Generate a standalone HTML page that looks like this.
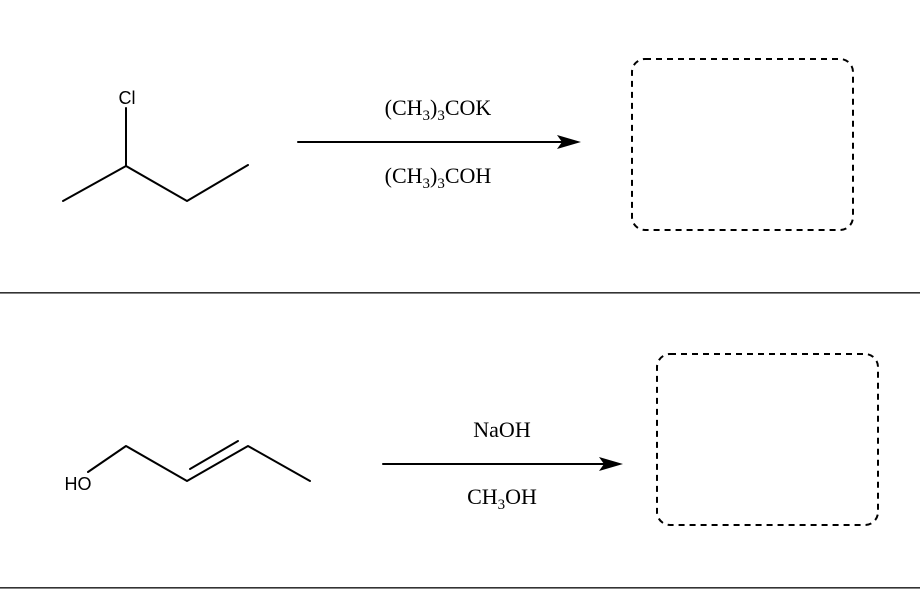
<!DOCTYPE html>
<html><head><style>
html,body{margin:0;padding:0;background:#fff;}
svg{display:block;}
.t{font-family:"Liberation Serif",serif;font-size:22px;fill:#000;}
.s{font-family:"Liberation Sans",sans-serif;font-size:18px;fill:#000;}
</style></head><body>
<svg width="920" height="592" viewBox="0 0 920 592" xmlns="http://www.w3.org/2000/svg">
<g stroke="#000" stroke-width="2" fill="none" stroke-linecap="round" stroke-linejoin="round">
<polyline points="63,201 126,166 187,201 248,165"/>
<line x1="126" y1="108" x2="126" y2="166"/>
<line x1="298" y1="142" x2="565" y2="142"/>
<polyline points="88,472 126,446 187,481 248,446 310,481"/>
<line x1="190" y1="469" x2="238" y2="441"/>
<line x1="383" y1="464" x2="607" y2="464"/>
</g>
<polygon points="581,142 557,135 562,142 557,149" fill="#000"/>
<polygon points="623,464 599,457 604,464 599,471" fill="#000"/>
<text class="s" x="127" y="104" text-anchor="middle">Cl</text>
<text class="s" x="78" y="490" text-anchor="middle">HO</text>
<text class="t" x="438" y="115" text-anchor="middle">(CH<tspan font-size="15" dy="5">3</tspan><tspan dy="-5">)</tspan><tspan font-size="15" dy="5">3</tspan><tspan dy="-5">COK</tspan></text>
<text class="t" x="438" y="183" text-anchor="middle">(CH<tspan font-size="15" dy="5">3</tspan><tspan dy="-5">)</tspan><tspan font-size="15" dy="5">3</tspan><tspan dy="-5">COH</tspan></text>
<text class="t" x="502" y="437" text-anchor="middle">NaOH</text>
<text class="t" x="502" y="504" text-anchor="middle">CH<tspan font-size="15" dy="5">3</tspan><tspan dy="-5">OH</tspan></text>
<g stroke="#000" stroke-width="2" fill="none" stroke-dasharray="6,5">
<rect x="632" y="59" width="221" height="171" rx="13"/>
<rect x="657" y="354" width="221" height="171" rx="13"/>
</g>
<rect x="0" y="292" width="920" height="1.6" fill="#333"/>
<rect x="0" y="587" width="920" height="1.6" fill="#333"/>
</svg>
</body></html>
